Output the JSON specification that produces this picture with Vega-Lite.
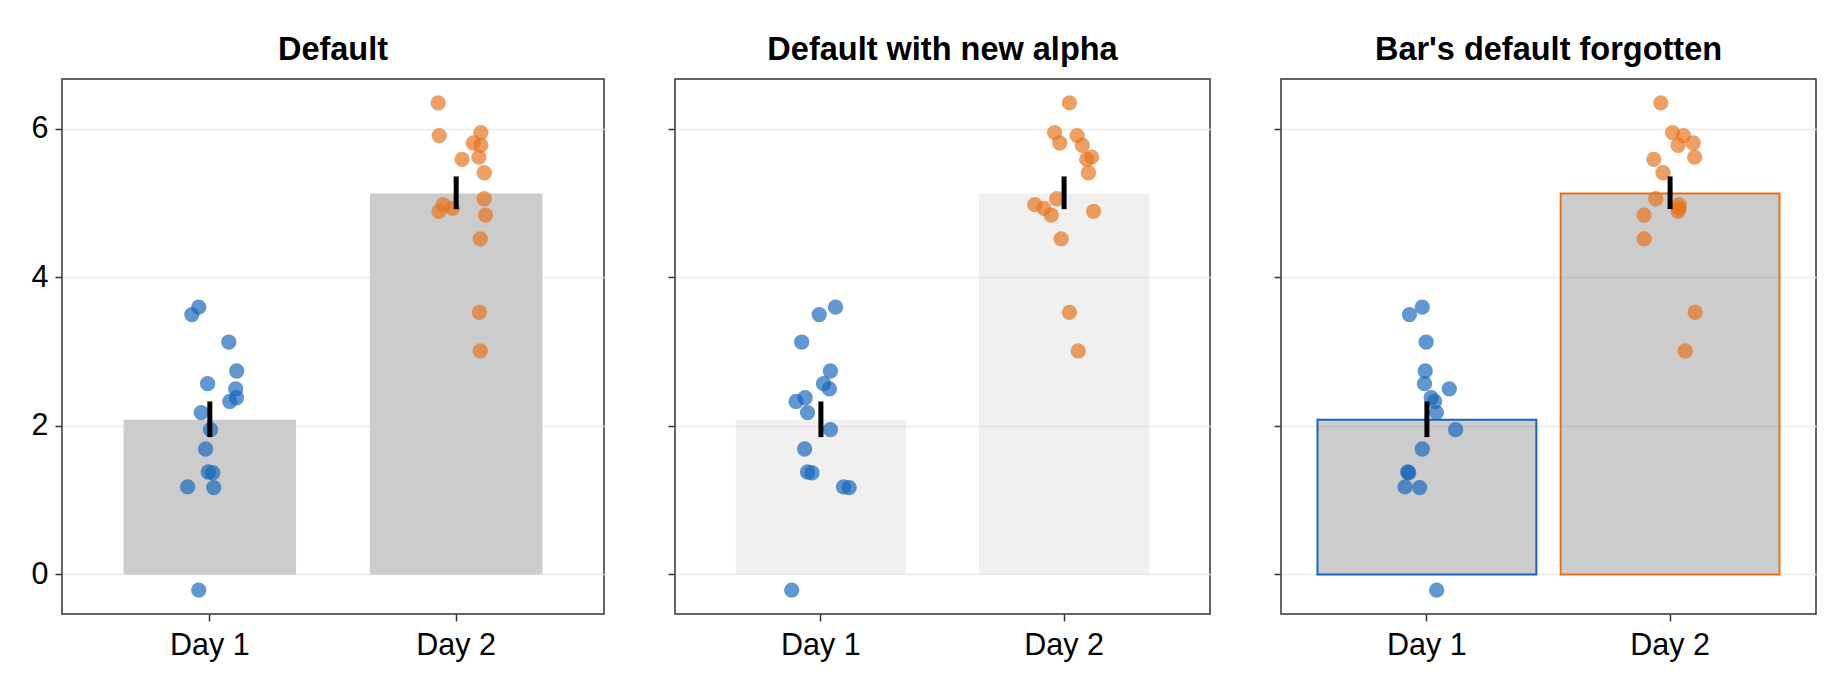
{
  "$schema": "https://vega.github.io/schema/vega-lite/v6.json",
  "background": "white",
  "padding": {"left": 30, "top": 32, "right": 5, "bottom": 5},
  "spacing": 61,
  "datasets": {
    "points": [
      {"day": "Day 1", "value": 3.60, "p1": 0.955, "p2": 1.060, "p3": 0.981},
      {"day": "Day 1", "value": 3.50, "p1": 0.927, "p2": 0.993, "p3": 0.928},
      {"day": "Day 1", "value": 3.13, "p1": 1.077, "p2": 0.921, "p3": 0.997},
      {"day": "Day 1", "value": 2.74, "p1": 1.109, "p2": 1.039, "p3": 0.993},
      {"day": "Day 1", "value": 2.57, "p1": 0.991, "p2": 1.011, "p3": 0.990},
      {"day": "Day 1", "value": 2.50, "p1": 1.105, "p2": 1.035, "p3": 1.092},
      {"day": "Day 1", "value": 2.38, "p1": 1.108, "p2": 0.935, "p3": 1.018},
      {"day": "Day 1", "value": 2.33, "p1": 1.081, "p2": 0.898, "p3": 1.032},
      {"day": "Day 1", "value": 2.18, "p1": 0.965, "p2": 0.945, "p3": 1.039},
      {"day": "Day 1", "value": 1.95, "p1": 1.003, "p2": 1.039, "p3": 1.118},
      {"day": "Day 1", "value": 1.69, "p1": 0.983, "p2": 0.933, "p3": 0.981},
      {"day": "Day 1", "value": 1.38, "p1": 0.994, "p2": 0.945, "p3": 0.921},
      {"day": "Day 1", "value": 1.37, "p1": 1.012, "p2": 0.963, "p3": 0.925},
      {"day": "Day 1", "value": 1.18, "p1": 0.910, "p2": 1.093, "p3": 0.910},
      {"day": "Day 1", "value": 1.17, "p1": 1.016, "p2": 1.116, "p3": 0.970},
      {"day": "Day 1", "value": -0.21, "p1": 0.955, "p2": 0.880, "p3": 1.040},
      {"day": "Day 2", "value": 6.35, "p1": 1.927, "p2": 2.022, "p3": 1.962},
      {"day": "Day 2", "value": 5.95, "p1": 2.100, "p2": 1.961, "p3": 2.010},
      {"day": "Day 2", "value": 5.91, "p1": 1.931, "p2": 2.054, "p3": 2.055},
      {"day": "Day 2", "value": 5.81, "p1": 2.070, "p2": 1.982, "p3": 2.095},
      {"day": "Day 2", "value": 5.78, "p1": 2.100, "p2": 2.075, "p3": 2.033},
      {"day": "Day 2", "value": 5.62, "p1": 2.092, "p2": 2.113, "p3": 2.101},
      {"day": "Day 2", "value": 5.59, "p1": 2.024, "p2": 2.093, "p3": 1.933},
      {"day": "Day 2", "value": 5.41, "p1": 2.114, "p2": 2.100, "p3": 1.971},
      {"day": "Day 2", "value": 5.06, "p1": 2.114, "p2": 1.970, "p3": 1.941},
      {"day": "Day 2", "value": 4.98, "p1": 1.947, "p2": 1.880, "p3": 2.037},
      {"day": "Day 2", "value": 4.93, "p1": 1.985, "p2": 1.917, "p3": 2.037},
      {"day": "Day 2", "value": 4.89, "p1": 1.930, "p2": 2.121, "p3": 2.033},
      {"day": "Day 2", "value": 4.84, "p1": 2.119, "p2": 1.947, "p3": 1.893},
      {"day": "Day 2", "value": 4.52, "p1": 2.098, "p2": 1.988, "p3": 1.893},
      {"day": "Day 2", "value": 3.53, "p1": 2.094, "p2": 2.022, "p3": 2.103},
      {"day": "Day 2", "value": 3.01, "p1": 2.098, "p2": 2.058, "p3": 2.062}
    ],
    "summary": [
      {"day": "Day 1", "mean": 2.084, "lo": 1.85, "hi": 2.33},
      {"day": "Day 2", "mean": 5.13, "lo": 4.92, "hi": 5.36}
    ]
  },
  "config": {
    "font": "Liberation Sans",
    "view": {"stroke": "#333333", "strokeWidth": 1.5},
    "axis": {"domain": false, "tickColor": "#333333", "tickWidth": 1.5, "tickSize": 7, "labelFont": "Liberation Sans", "labelFontSize": 30.5, "labelColor": "#000000"},
    "axisX": {"grid": false, "labelAngle": 0, "labelPadding": 9},
    "axisY": {"grid": true, "gridColor": "#EBEBEB", "gridWidth": 1.5, "labelPadding": 7},
    "title": {"font": "Liberation Sans", "fontSize": 32.5, "fontWeight": "bold", "color": "#000000", "anchor": "middle", "offset": 13}
  },
  "hconcat": [
    {
      "width": 542, "height": 535,
      "title": "Default",
      "resolve": {"scale": {"x": "independent"}, "axis": {"x": "independent"}},
      "layer": [
        {"data": {"name": "summary"}, "mark": {"type": "bar", "color": "#CCCCCC"},
         "encoding": {
           "x": {"field": "day", "type": "nominal", "scale": {"type": "band", "paddingInner": 0.3, "paddingOuter": 0.25}, "axis": {"title": null}},
           "y": {"field": "mean", "type": "quantitative", "scale": {"domain": [-0.532, 6.672], "nice": false, "zero": false}, "axis": {"title": null, "values": [0, 2, 4, 6]}}}},
        {"data": {"name": "points"}, "mark": {"type": "circle", "size": 235, "opacity": 0.68},
         "encoding": {
           "x": {"field": "p1", "type": "quantitative", "scale": {"domain": [0.4, 2.6], "nice": false, "zero": false}, "axis": null},
           "y": {"field": "value", "type": "quantitative", "axis": {"title": null, "values": [0, 2, 4, 6]}},
           "color": {"field": "day", "type": "nominal", "scale": {"domain": ["Day 1", "Day 2"], "range": ["#1565BA", "#E6731A"]}, "legend": null}}},
        {"data": {"name": "summary"}, "mark": {"type": "rule", "color": "#000000", "strokeWidth": 5},
         "encoding": {
           "x": {"field": "day", "type": "nominal", "scale": {"type": "band", "paddingInner": 0.3, "paddingOuter": 0.25}, "axis": null},
           "y": {"field": "lo", "type": "quantitative", "axis": {"title": null, "values": [0, 2, 4, 6]}},
           "y2": {"field": "hi"}}}
      ]
    },
    {
      "width": 535, "height": 535,
      "title": "Default with new alpha",
      "resolve": {"scale": {"x": "independent"}, "axis": {"x": "independent"}},
      "layer": [
        {"data": {"name": "summary"}, "mark": {"type": "bar", "color": "#CCCCCC", "opacity": 0.3},
         "encoding": {
           "x": {"field": "day", "type": "nominal", "scale": {"type": "band", "paddingInner": 0.3, "paddingOuter": 0.25}, "axis": {"title": null}},
           "y": {"field": "mean", "type": "quantitative", "scale": {"domain": [-0.532, 6.672], "nice": false, "zero": false}, "axis": {"title": null, "values": [0, 2, 4, 6], "labels": false}}}},
        {"data": {"name": "points"}, "mark": {"type": "circle", "size": 235, "opacity": 0.68},
         "encoding": {
           "x": {"field": "p2", "type": "quantitative", "scale": {"domain": [0.4, 2.6], "nice": false, "zero": false}, "axis": null},
           "y": {"field": "value", "type": "quantitative", "axis": {"title": null, "values": [0, 2, 4, 6], "labels": false}},
           "color": {"field": "day", "type": "nominal", "scale": {"domain": ["Day 1", "Day 2"], "range": ["#1565BA", "#E6731A"]}, "legend": null}}},
        {"data": {"name": "summary"}, "mark": {"type": "rule", "color": "#000000", "strokeWidth": 5},
         "encoding": {
           "x": {"field": "day", "type": "nominal", "scale": {"type": "band", "paddingInner": 0.3, "paddingOuter": 0.25}, "axis": null},
           "y": {"field": "lo", "type": "quantitative", "axis": {"title": null, "values": [0, 2, 4, 6], "labels": false}},
           "y2": {"field": "hi"}}}
      ]
    },
    {
      "width": 535, "height": 535,
      "title": "Bar's default forgotten",
      "resolve": {"scale": {"x": "independent"}, "axis": {"x": "independent"}},
      "layer": [
        {"data": {"name": "summary"}, "mark": {"type": "bar", "fill": "#7F7F7F", "fillOpacity": 0.4, "strokeWidth": 2},
         "encoding": {
           "x": {"field": "day", "type": "nominal", "scale": {"type": "band", "paddingInner": 0.1, "paddingOuter": 0.15}, "axis": {"title": null}},
           "y": {"field": "mean", "type": "quantitative", "scale": {"domain": [-0.532, 6.672], "nice": false, "zero": false}, "axis": {"title": null, "values": [0, 2, 4, 6], "labels": false}},
           "stroke": {"field": "day", "type": "nominal", "scale": {"domain": ["Day 1", "Day 2"], "range": ["#1565C0", "#E6731A"]}, "legend": null}}},
        {"data": {"name": "points"}, "mark": {"type": "circle", "size": 235, "opacity": 0.68},
         "encoding": {
           "x": {"field": "p3", "type": "quantitative", "scale": {"domain": [0.4, 2.6], "nice": false, "zero": false}, "axis": null},
           "y": {"field": "value", "type": "quantitative", "axis": {"title": null, "values": [0, 2, 4, 6], "labels": false}},
           "color": {"field": "day", "type": "nominal", "scale": {"domain": ["Day 1", "Day 2"], "range": ["#1565BA", "#E6731A"]}, "legend": null}}},
        {"data": {"name": "summary"}, "mark": {"type": "rule", "color": "#000000", "strokeWidth": 5},
         "encoding": {
           "x": {"field": "day", "type": "nominal", "scale": {"type": "band", "paddingInner": 0.1, "paddingOuter": 0.15}, "axis": null},
           "y": {"field": "lo", "type": "quantitative", "axis": {"title": null, "values": [0, 2, 4, 6], "labels": false}},
           "y2": {"field": "hi"}}}
      ]
    }
  ]
}
